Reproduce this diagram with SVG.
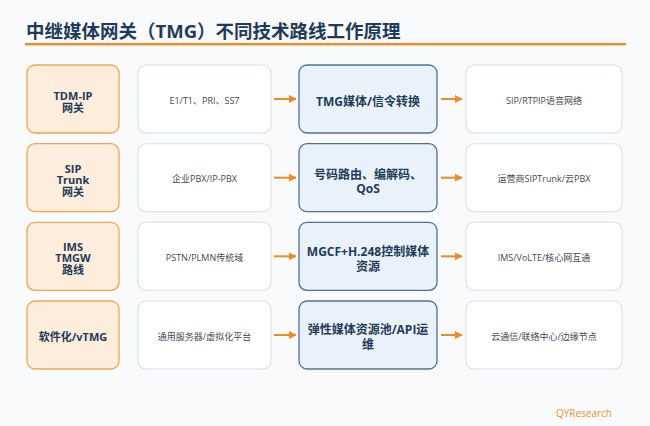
<svg xmlns="http://www.w3.org/2000/svg" width="650" height="426" viewBox="0 0 650 426">
<defs>
<style>
text{font-family:"Open Sans","Noto Sans CJK SC",sans-serif;text-anchor:middle}
.title{font-size:18.5px;font-weight:700;fill:#1f3b57;text-anchor:start}
.c1 rect{fill:#fdeddc;stroke:#f2a54f;stroke-width:1.3}
.c2 rect{fill:#ffffff;stroke:#d9dee5;stroke-width:1.1}
.c3 rect{fill:#e9f2fa;stroke:#4e7294;stroke-width:1.3}
.t1{font-size:11px;font-weight:700;fill:#1f3b57}
.t2{font-size:9px;fill:#444a50}
.t3{font-size:12px;font-weight:700;fill:#1f3b57}
.arr line{stroke:#f08a24;stroke-width:2}
.brand{font-size:10px;fill:#f0922b;text-anchor:end}
</style>
<marker id="ah" viewBox="0 0 10 10" refX="9" refY="5" markerWidth="4" markerHeight="4" orient="auto" markerUnits="strokeWidth">
<path d="M0,0 L10,5 L0,10 z" fill="#f08a24"/>
</marker>
</defs>
<rect x="0" y="0" width="650" height="426" fill="#f8fafc"/>
<text class="title" x="26" y="37.5">中继媒体网关（TMG）不同技术路线工作原理</text>
<rect x="25" y="43" width="601" height="2.4" fill="#f08a24"/>

<!-- Row 1 -->
<g id="r1c1" class="c1"><rect x="27" y="65" width="92" height="68" rx="8"/><text class="t1" x="73" y="100">TDM-IP</text><text class="t1" x="73" y="111.5">网关</text></g>
<g id="r1c2" class="c2"><rect x="138" y="65" width="133" height="68" rx="8"/><text class="t2" x="204.5" y="104">E1/T1、PRI、SS7</text></g>
<g id="r1c3" class="c3"><rect x="299" y="65" width="138" height="68" rx="8"/><text class="t3" x="368" y="106">TMG媒体/信令转换</text></g>
<g id="r1c4" class="c2"><rect x="466" y="65" width="156" height="68" rx="8"/><text class="t2" x="544" y="104">SIP/RTPIP语音网络</text></g>

<!-- Row 2 -->
<g id="r2c1" class="c1"><rect x="27" y="143.7" width="92" height="68" rx="8"/><text class="t1" x="73" y="173">SIP</text><text class="t1" x="73" y="184">Trunk</text><text class="t1" x="73" y="195.5">网关</text></g>
<g id="r2c2" class="c2"><rect x="138" y="143.7" width="133" height="68" rx="8"/><text class="t2" x="204.5" y="182">企业PBX/IP-PBX</text></g>
<g id="r2c3" class="c3"><rect x="299" y="143.7" width="138" height="68" rx="8"/><text class="t3" x="368" y="179">号码路由、编解码、</text><text class="t3" x="368" y="192.5">QoS</text></g>
<g id="r2c4" class="c2"><rect x="466" y="143.7" width="156" height="68" rx="8"/><text class="t2" x="544" y="182">运营商SIPTrunk/云PBX</text></g>

<!-- Row 3 -->
<g id="r3c1" class="c1"><rect x="27" y="222.3" width="92" height="68" rx="8"/><text class="t1" x="73" y="251">IMS</text><text class="t1" x="73" y="262">TMGW</text><text class="t1" x="73" y="273.5">路线</text></g>
<g id="r3c2" class="c2"><rect x="138" y="222.3" width="133" height="68" rx="8"/><text class="t2" x="204.5" y="261">PSTN/PLMN传统域</text></g>
<g id="r3c3" class="c3"><rect x="299" y="222.3" width="138" height="68" rx="8"/><text class="t3" x="368" y="256">MGCF+H.248控制媒体</text><text class="t3" x="368" y="271">资源</text></g>
<g id="r3c4" class="c2"><rect x="466" y="222.3" width="156" height="68" rx="8"/><text class="t2" x="544" y="261">IMS/VoLTE/核心网互通</text></g>

<!-- Row 4 -->
<g id="r4c1" class="c1"><rect x="27" y="301" width="92" height="68" rx="8"/><text class="t1" x="73" y="341">软件化/vTMG</text></g>
<g id="r4c2" class="c2"><rect x="138" y="301" width="133" height="68" rx="8"/><text class="t2" x="204.5" y="340">通用服务器/虚拟化平台</text></g>
<g id="r4c3" class="c3"><rect x="299" y="301" width="138" height="68" rx="8"/><text class="t3" x="368" y="334">弹性媒体资源池/API运</text><text class="t3" x="368" y="349">维</text></g>
<g id="r4c4" class="c2"><rect x="466" y="301" width="156" height="68" rx="8"/><text class="t2" x="544" y="340">云通信/联络中心/边缘节点</text></g>

<!-- Connectors -->
<g id="connectors" class="arr">
<line x1="274" y1="99" x2="296" y2="99" marker-end="url(#ah)"/>
<line x1="441" y1="99" x2="462" y2="99" marker-end="url(#ah)"/>
<line x1="274" y1="177.7" x2="296" y2="177.7" marker-end="url(#ah)"/>
<line x1="441" y1="177.7" x2="462" y2="177.7" marker-end="url(#ah)"/>
<line x1="274" y1="256.3" x2="296" y2="256.3" marker-end="url(#ah)"/>
<line x1="441" y1="256.3" x2="462" y2="256.3" marker-end="url(#ah)"/>
<line x1="274" y1="335" x2="296" y2="335" marker-end="url(#ah)"/>
<line x1="441" y1="335" x2="462" y2="335" marker-end="url(#ah)"/>
</g>

<text class="brand" x="612" y="417">QYResearch</text>
</svg>
